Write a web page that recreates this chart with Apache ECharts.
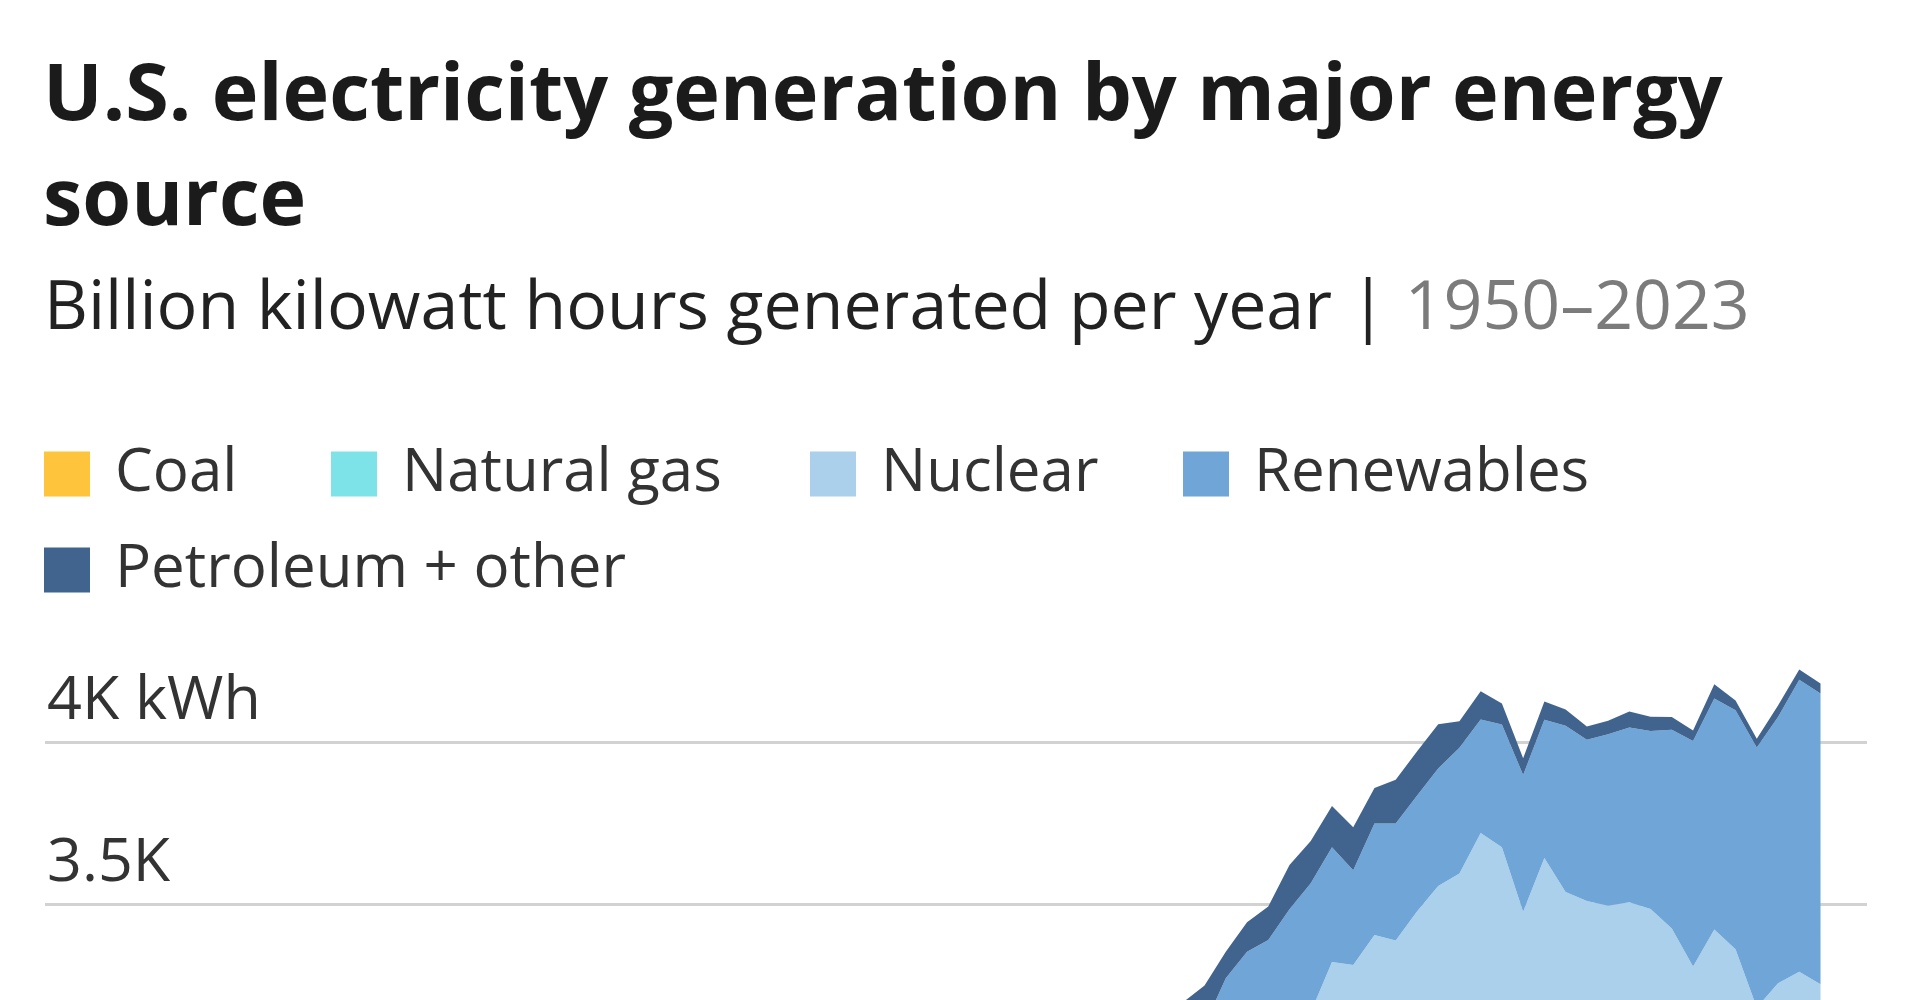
<!DOCTYPE html>
<html><head><meta charset="utf-8">
<script src="https://cdn.jsdelivr.net/npm/echarts@6/dist/echarts.min.js"></script>
<style>html,body{margin:0;padding:0;background:#fff;overflow:hidden}#c{width:1910px;height:1000px}</style>
</head><body><div id="c"></div>
<script>
const years = [1950,1951,1952,1953,1954,1955,1956,1957,1958,1959,
1960,1961,1962,1963,1964,1965,1966,1967,1968,1969,
1970,1971,1972,1973,1974,1975,1976,1977,1978,1979,
1980,1981,1982,1983,1984,1985,1986,1987,1988,1989,
1990,1991,1992,1993,1994,1995,1996,1997,1998,1999,
2000,2001,2002,2003,2004,2005,2006,2007,2008,2009,
2010,2011,2012,2013,2014,2015,2016,2017,2018,2019,
2020,2021,2022,2023];
const coal = [154.5,185.2,195.4,218.8,239.1,301.4,338.5,346.4,344.4,378.4,
403.1,421.9,450.2,493.9,526.2,570.9,613.5,630.5,684.9,706.0,
704.4,713.1,771.1,847.7,828.4,852.8,944.4,985.2,975.7,1075.0,
1161.6,1203.2,1192.0,1259.4,1341.7,1402.1,1385.8,1463.8,1540.7,1583.8,
1594.0,1592.0,1621.2,1690.1,1690.7,1709.4,1795.2,1845.0,1873.5,1881.1,
1966.3,1904.0,1933.1,1973.7,1978.3,2012.9,1990.5,2016.5,1985.8,1755.9,
1847.3,1733.4,1514.0,1581.1,1581.7,1352.4,1239.1,1205.8,1146.0,965.0,
773.4,897.9,831.5,675.1];
const naturalGas = [44.6,56.7,64.3,75.4,84.6,95.3,104.2,114.3,124.7,148.4,
158.0,169.3,184.3,201.8,220.1,221.6,251.2,264.8,304.4,333.3,
372.9,374.0,375.7,340.9,320.1,299.8,294.6,305.5,305.4,329.5,
346.2,345.8,305.3,274.1,297.4,291.9,248.5,272.6,252.8,352.6,
372.8,381.6,404.1,414.9,460.2,496.1,455.1,479.4,531.3,556.4,
601.0,639.1,691.0,649.9,710.1,761.0,816.4,896.6,883.0,921.0,
987.7,1013.7,1225.9,1124.8,1126.6,1334.7,1379.3,1296.4,1468.2,1585.8,
1617.0,1579.2,1687.1,1802.1];
const nuclear = [0,0,0,0,0,0,0,0.01,0.2,0.19,
0.5,1.7,2.3,3.2,3.3,3.7,5.5,7.7,12.5,13.9,
21.8,38.1,54.1,83.5,114.0,172.5,191.1,250.9,276.4,255.2,
251.1,272.7,282.8,293.7,327.6,383.7,414.0,455.3,527.0,529.4,
576.9,612.6,618.8,610.3,640.4,673.4,674.7,628.6,673.7,728.3,
753.9,768.8,780.1,763.7,788.5,782.0,787.2,806.4,806.2,798.9,
807.0,790.2,769.3,789.0,797.2,797.2,805.7,805.0,807.1,809.4,
789.9,778.2,772.2,775.3];
const renewables = [101,104,110,109,107,117,123,130,141,139,
149,153,170,167,178,197,198,225,226,254,
253,270,277,276,306,304,288,225,285,285,
285,270,319,345,336,296,307,266,243,330,
357,355,328,356,335,392,428,436,405,398,
354,292,344,361,357,362,388,350,379,422,
427,513,498,529,539,550,614,696,713,738,
803,822,901,897];
const petroleumOther = [34,29,30,32,26,37,36,38,40,47,
48,49,49,52,57,65,79,89,104,138,
184,220,274,314,301,289,320,358,365,304,
246,206,147,145,120,100,137,119,149,175,
136,130,112,126,122,82,91,103,137,131,
127,133,110,135,137,137,82,87,65,52,
56,50,41,42,50,44,39,32,44,30,
27,35,32,31];
const seriesNames = ['Coal','Natural gas','Nuclear','Renewables','Petroleum + other'];
const seriesColors = ['#fdc43c','#7ee3e9','#abd0ec','#6fa6d7','#41648f'];
const yTickValues = [3000,3500,4000];
const yTickLabels = ['3K','3.5K','4K kWh'];

const F = '"Open Sans", Lato, sans-serif';
const seriesData = [coal, naturalGas, nuclear, renewables, petroleumOther];
const legendPos = [[44,444],[331,444],[810,444],[1183,444],[44,540]];

const chart = echarts.init(document.getElementById('c'), null, {renderer:'canvas'});
const yCommon = {type:'value', min:3000, max:4500, interval:500};
const option = {
  animation:false,
  backgroundColor:'#ffffff',
  title:[
    {text:'U.S. electricity generation by major energy\nsource', left:43, top:45, padding:0,
     textStyle:{fontFamily:F, fontSize:79, fontWeight:'bold', lineHeight:105, color:'#1b1b1b'}},
    {text:'{a|Billion kilowatt hours generated per year | }{b|1950–2023}', left:44, top:276, padding:0,
     textStyle:{rich:{
       a:{fontFamily:F, fontSize:68, fontWeight:'normal', lineHeight:68, color:'#222222'},
       b:{fontFamily:F, fontSize:68, fontWeight:'normal', lineHeight:68, color:'#7b7b7b'}}}}
  ],
  legend: seriesNames.map((n,i)=>({
    data:[n], left:legendPos[i][0], top:legendPos[i][1], padding:0,
    itemWidth:46, itemHeight:45, icon:'rect', selectedMode:false,
    textStyle:{fontFamily:F, fontSize:60, color:'#333333', padding:[0,0,7,20]}
  })),
  grid:[
    {left:45, right:43, top:580, height:486, outerBoundsMode:'none'},
    {left:270, right:89.5, top:580, height:486, outerBoundsMode:'none'}
  ],
  xAxis:[
    {gridIndex:0, type:'value', min:0, max:1, show:false},
    {gridIndex:1, type:'category', data:years, boundaryGap:false, show:false}
  ],
  yAxis:[
    Object.assign({gridIndex:0,
      axisLine:{show:false}, axisTick:{show:false},
      splitLine:{show:true, showMaxLine:false, lineStyle:{color:'#d2d2d2', width:3}},
      axisLabel:{inside:true, margin:2, verticalAlign:'bottom', showMaxLabel:false, showMinLabel:false,
        fontFamily:F, fontSize:61, color:'#333333', padding:[0,0,10,0],
        formatter:function(v){ const k = yTickValues.indexOf(v); return k>=0 ? yTickLabels[k] : ''; }}
    }, yCommon),
    Object.assign({gridIndex:1, show:false, splitLine:{show:false}}, yCommon)
  ],
  series: seriesNames.map((n,i)=>({
    name:n, type:'line', stack:'total', symbol:'none', showSymbol:false,
    xAxisIndex:1, yAxisIndex:1,
    data: seriesData[i],
    lineStyle:{width:0}, itemStyle:{color:seriesColors[i]},
    areaStyle:{color:seriesColors[i], opacity:1}
  }))
};
chart.setOption(option);
</script>
</body></html>
